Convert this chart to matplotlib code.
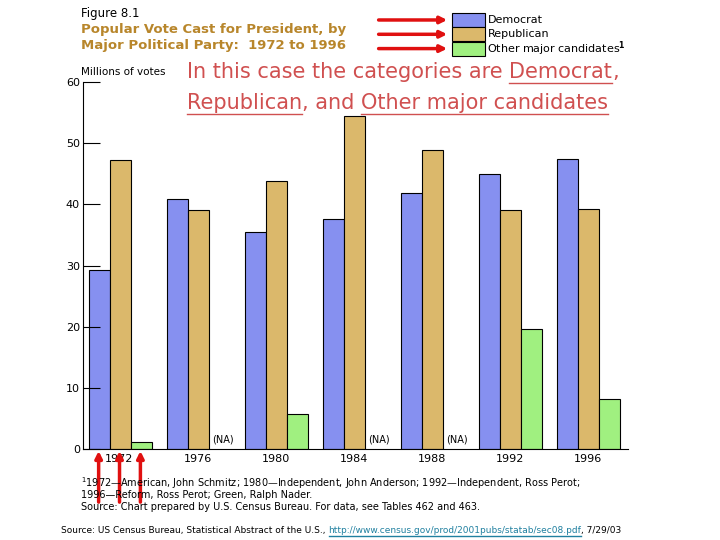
import matplotlib
matplotlib.use("Agg")
import matplotlib.pyplot as plt
import numpy as np

years = ["1972", "1976", "1980", "1984", "1988", "1992", "1996"]
democrat = [29.2, 40.8, 35.5, 37.6, 41.8, 44.9, 47.4]
republican = [47.2, 39.1, 43.9, 54.5, 48.9, 39.1, 39.2]
other = [1.1, None, 5.7, None, None, 19.7, 8.1]

cD, cR, cO = "#8690f0", "#dbb86b", "#a0f080"
fig = plt.figure(figsize=(7.2, 5.4), dpi=100)
ax = fig.add_axes([0.115, 0.1685, 0.757, 0.6795])
x = np.arange(len(years))
w = 0.27
ax.bar(x - w + 0.01, democrat, w, color=cD, edgecolor="black", linewidth=0.8)
ax.bar(x + 0.01, republican, w, color=cR, edgecolor="black", linewidth=0.8)
for xi, v in zip(x, other):
    if v is None:
        ax.text(xi + w + 0.05, 0.8, "(NA)", ha="center", va="bottom", fontsize=7)
    else:
        ax.bar(xi + w + 0.01, v, w, color=cO, edgecolor="black", linewidth=0.8)
ax.set_xlim(-0.47, 6.51)
ax.set_ylim(0, 60)
ax.set_xticks(x)
ax.set_xticklabels(years, fontsize=8)
ax.set_yticks(range(0, 61, 10))
ax.tick_params(axis="y", direction="in", length=12, labelsize=8, pad=2)
ax.tick_params(axis="x", length=0)
for s in ["top", "right"]:
    ax.spines[s].set_visible(False)

fig.text(0.113, 0.975, "Figure 8.1", fontsize=8.5, va="center")
fig.text(0.113, 0.945, "Popular Vote Cast for President, by", fontsize=9.5, color="#b8862b", weight="bold", va="center")
fig.text(0.113, 0.915, "Major Political Party:  1972 to 1996", fontsize=9.5, color="#b8862b", weight="bold", va="center")
for i, (lab, c) in enumerate([("Democrat", cD), ("Republican", cR), ("Other major candidates$^{\\bf 1}$", cO)]):
    y = 0.963 - i * 0.0265
    fig.patches.append(plt.Rectangle((0.628, y - 0.013), 0.045, 0.026, transform=fig.transFigure, facecolor=c, edgecolor="black", linewidth=0.8))
    fig.text(0.677, y, lab, fontsize=8, va="center")
    ax.annotate("", xy=(0.625, y), xytext=(0.522, y), xycoords="figure fraction",
                arrowprops=dict(arrowstyle="-|>", color="#e01010", lw=2.5, mutation_scale=10))
fig.text(0.113, 0.866, "Millions of votes", fontsize=7.5, va="center")

fig.canvas.draw()
r = fig.canvas.get_renderer()
W, H = fig.bbox.width, fig.bbox.height

def seq(x0, y, parts, fs):
    xc = x0
    for txt, col, ul in parts:
        t = fig.text(xc, y, txt, fontsize=fs, color=col, va="center")
        bb = t.get_window_extent(r)
        if ul:
            yl = (bb.y0 - 1) / H
            fig.add_artist(plt.Line2D([bb.x0 / W, bb.x1 / W], [yl, yl], color=col, lw=1, transform=fig.transFigure))
        xc = bb.x1 / W

red = "#d05050"
seq(0.26, 0.866, [("In this case the categories are ", red, False), ("Democrat", red, True), (",", red, False)], 15)
seq(0.26, 0.81, [("Republican", red, True), (", and ", red, False), ("Other major candidates", red, True)], 15)

for xa in [0.137, 0.166, 0.195]:
    ax.annotate("", xy=(xa, 0.17), xytext=(xa, 0.065), xycoords="figure fraction",
                arrowprops=dict(arrowstyle="-|>", color="#e01010", lw=2.5, mutation_scale=10))
fig.text(0.113, 0.105, "$^1$1972—American, John Schmitz; 1980—Independent, John Anderson; 1992—Independent, Ross Perot;", fontsize=7, va="center")
fig.text(0.113, 0.083, "1996—Reform, Ross Perot; Green, Ralph Nader.", fontsize=7, va="center")
fig.text(0.113, 0.061, "Source: Chart prepared by U.S. Census Bureau. For data, see Tables 462 and 463.", fontsize=7, va="center")
seq(0.085, 0.018, [("Source: US Census Bureau, Statistical Abstract of the U.S., ", "black", False),
                   ("http://www.census.gov/prod/2001pubs/statab/sec08.pdf", "#2080a0", True),
                   (", 7/29/03", "black", False)], 6.5)
fig.savefig("out.png", dpi=100)
